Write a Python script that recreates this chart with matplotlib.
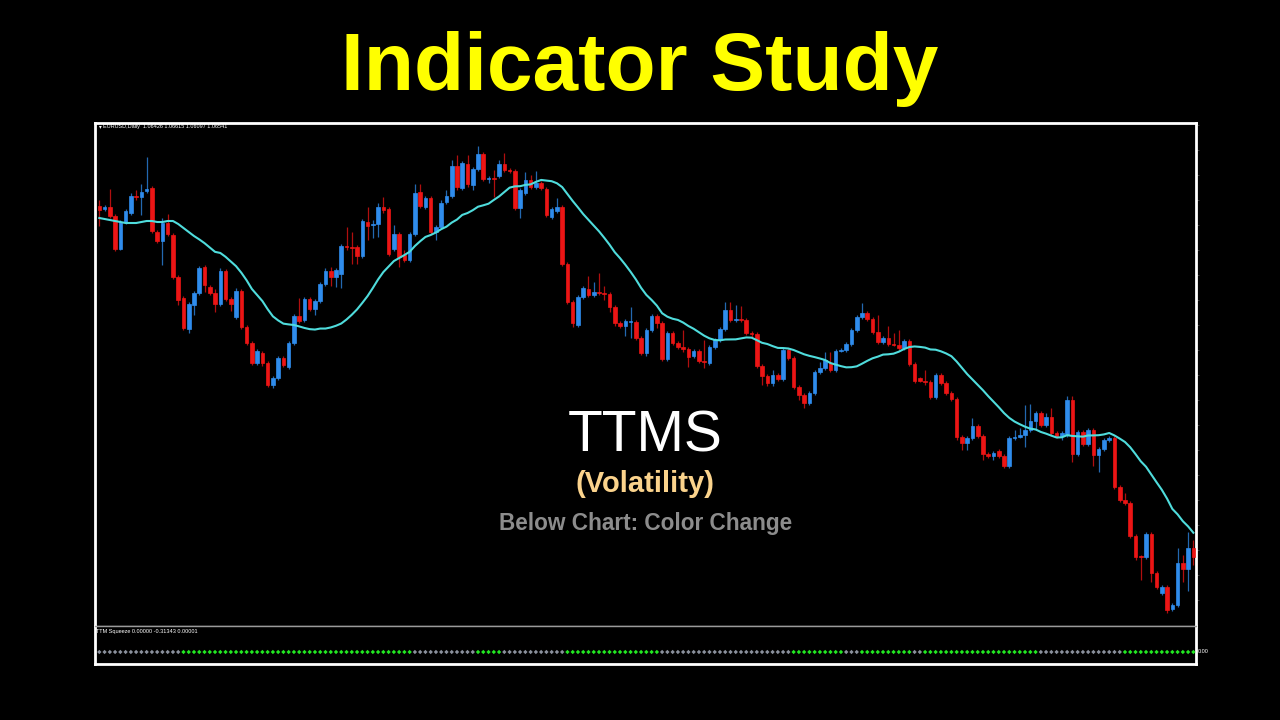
import numpy as np
import pandas as pd
import matplotlib
matplotlib.use("Agg")
import matplotlib.pyplot as plt

# EURUSD daily candles (oldest -> newest)
opens = [1.0994, 1.0991, 1.0993, 1.0984, 1.0951, 1.0978, 1.0987, 1.1004, 1.1003, 1.1009,
         1.1012, 1.0968, 1.0959, 1.0977, 1.0965, 1.0923, 1.0902, 1.0871, 1.0895, 1.0907,
         1.0933, 1.0913, 1.0907, 1.0896, 1.0929, 1.0901, 1.0883, 1.0909, 1.0873, 1.0857,
         1.0837, 1.0847, 1.0837, 1.0815, 1.0822, 1.0842, 1.0833, 1.0857, 1.0884, 1.0880,
         1.0901, 1.0891, 1.0899, 1.0916, 1.0929, 1.0923, 1.0926, 1.0954, 1.0953, 1.0953,
         1.0944, 1.0978, 1.0975, 1.0976, 1.0993, 1.0991, 1.0951, 1.0966, 1.0945, 1.0940,
         1.0966, 1.1008, 1.0993, 1.1002, 1.0968, 1.0973, 1.0998, 1.1004, 1.1034, 1.1012,
         1.1036, 1.1015, 1.1031, 1.1046, 1.1021, 1.1022, 1.1024, 1.1036, 1.1030, 1.1029,
         1.0992, 1.1007, 1.1020, 1.1013, 1.1017, 1.1011, 1.0983, 1.0989, 1.0993, 1.0936,
         1.0898, 1.0875, 1.0903, 1.0911, 1.0905, 1.0908, 1.0907, 1.0906, 1.0893, 1.0877,
         1.0874, 1.0878, 1.0878, 1.0862, 1.0847, 1.0870, 1.0884, 1.0877, 1.0841, 1.0867,
         1.0857, 1.0853, 1.0851, 1.0844, 1.0849, 1.0839, 1.0837, 1.0853, 1.0860, 1.0871,
         1.0890, 1.0880, 1.0881, 1.0880, 1.0867, 1.0866, 1.0834, 1.0824, 1.0817, 1.0825,
         1.0821, 1.0850, 1.0842, 1.0813, 1.0805, 1.0797, 1.0807, 1.0828, 1.0832, 1.0837,
         1.0830, 1.0849, 1.0850, 1.0856, 1.0870, 1.0883, 1.0887, 1.0881, 1.0868, 1.0858,
         1.0862, 1.0856, 1.0855, 1.0852, 1.0859, 1.0836, 1.0822, 1.0819, 1.0818, 1.0803,
         1.0825, 1.0817, 1.0807, 1.0801, 1.0763, 1.0757, 1.0762, 1.0774, 1.0764, 1.0746,
         1.0744, 1.0749, 1.0744, 1.0734, 1.0762, 1.0763, 1.0765, 1.0770, 1.0779, 1.0787,
         1.0775, 1.0783, 1.0767, 1.0764, 1.0765, 1.0800, 1.0746, 1.0768, 1.0756, 1.0770,
         1.0745, 1.0751, 1.0760, 1.0762, 1.0713, 1.0700, 1.0697, 1.0664, 1.0644, 1.0643,
         1.0666, 1.0627, 1.0607, 1.0613, 1.0591, 1.0595, 1.0637, 1.0631, 1.0652]

highs = [1.1000, 1.0995, 1.1011, 1.0986, 1.0980, 1.0991, 1.1007, 1.1010, 1.1016, 1.1043,
         1.1014, 1.0970, 1.0982, 1.0986, 1.0967, 1.0925, 1.0904, 1.0898, 1.0909, 1.0934,
         1.0935, 1.0915, 1.0911, 1.0932, 1.0931, 1.0903, 1.0912, 1.0911, 1.0875, 1.0859,
         1.0851, 1.0849, 1.0839, 1.0824, 1.0844, 1.0844, 1.0859, 1.0886, 1.0902, 1.0903,
         1.0903, 1.0901, 1.0918, 1.0932, 1.0933, 1.0932, 1.0956, 1.0973, 1.0968, 1.0955,
         1.0981, 1.0993, 1.0980, 1.0997, 1.1003, 1.0993, 1.0975, 1.0968, 1.0950, 1.0968,
         1.1016, 1.1016, 1.1004, 1.1004, 1.0975, 1.1000, 1.1010, 1.1040, 1.1045, 1.1039,
         1.1045, 1.1033, 1.1054, 1.1048, 1.1024, 1.1030, 1.1040, 1.1047, 1.1032, 1.1031,
         1.1012, 1.1028, 1.1025, 1.1029, 1.1019, 1.1013, 1.0993, 1.1002, 1.0995, 1.0938,
         1.0900, 1.0905, 1.0914, 1.0924, 1.0918, 1.0927, 1.0914, 1.0908, 1.0895, 1.0879,
         1.0881, 1.0893, 1.0880, 1.0864, 1.0872, 1.0886, 1.0886, 1.0879, 1.0869, 1.0869,
         1.0859, 1.0870, 1.0853, 1.0851, 1.0851, 1.0860, 1.0855, 1.0862, 1.0873, 1.0898,
         1.0898, 1.0895, 1.0894, 1.0882, 1.0869, 1.0868, 1.0836, 1.0826, 1.0830, 1.0827,
         1.0852, 1.0852, 1.0844, 1.0815, 1.0807, 1.0809, 1.0830, 1.0838, 1.0848, 1.0848,
         1.0851, 1.0852, 1.0858, 1.0872, 1.0885, 1.0897, 1.0889, 1.0883, 1.0885, 1.0864,
         1.0874, 1.0867, 1.0870, 1.0861, 1.0861, 1.0838, 1.0823, 1.0830, 1.0820, 1.0827,
         1.0827, 1.0819, 1.0809, 1.0803, 1.0765, 1.0764, 1.0782, 1.0776, 1.0766, 1.0748,
         1.0749, 1.0751, 1.0746, 1.0764, 1.0770, 1.0772, 1.0795, 1.0796, 1.0789, 1.0789,
         1.0787, 1.0792, 1.0769, 1.0769, 1.0804, 1.0804, 1.0770, 1.0770, 1.0772, 1.0772,
         1.0753, 1.0762, 1.0764, 1.0764, 1.0715, 1.0707, 1.0699, 1.0666, 1.0645, 1.0668,
         1.0668, 1.0629, 1.0615, 1.0615, 1.0597, 1.0652, 1.0645, 1.0668, 1.0660]

lows = [1.0974, 1.0989, 1.0982, 1.0949, 1.0950, 1.0976, 1.0985, 1.1000, 1.0985, 1.1007,
        1.0967, 1.0957, 1.0935, 1.0964, 1.0921, 1.0895, 1.0870, 1.0867, 1.0885, 1.0905,
        1.0908, 1.0905, 1.0888, 1.0894, 1.0899, 1.0889, 1.0881, 1.0871, 1.0855, 1.0835,
        1.0835, 1.0834, 1.0813, 1.0812, 1.0820, 1.0833, 1.0831, 1.0855, 1.0877, 1.0878,
        1.0889, 1.0885, 1.0897, 1.0914, 1.0914, 1.0913, 1.0912, 1.0950, 1.0936, 1.0936,
        1.0942, 1.0960, 1.0962, 1.0963, 1.0987, 1.0944, 1.0949, 1.0933, 1.0938, 1.0938,
        1.0964, 1.0992, 1.0991, 1.0966, 1.0960, 1.0971, 1.0996, 1.1002, 1.1010, 1.1010,
        1.1013, 1.1010, 1.1029, 1.1019, 1.1017, 1.1003, 1.1022, 1.1028, 1.1027, 1.0990,
        1.0982, 1.1005, 1.1011, 1.1011, 1.1010, 1.0983, 1.0981, 1.0987, 1.0934, 1.0896,
        1.0873, 1.0873, 1.0901, 1.0903, 1.0903, 1.0905, 1.0900, 1.0888, 1.0874, 1.0872,
        1.0864, 1.0862, 1.0860, 1.0845, 1.0844, 1.0868, 1.0872, 1.0839, 1.0839, 1.0855,
        1.0851, 1.0848, 1.0833, 1.0842, 1.0837, 1.0832, 1.0835, 1.0851, 1.0858, 1.0869,
        1.0878, 1.0878, 1.0878, 1.0865, 1.0862, 1.0832, 1.0815, 1.0814, 1.0814, 1.0819,
        1.0819, 1.0840, 1.0811, 1.0800, 1.0792, 1.0795, 1.0805, 1.0826, 1.0830, 1.0828,
        1.0828, 1.0848, 1.0848, 1.0854, 1.0868, 1.0881, 1.0879, 1.0866, 1.0856, 1.0856,
        1.0854, 1.0854, 1.0850, 1.0850, 1.0834, 1.0817, 1.0818, 1.0815, 1.0801, 1.0801,
        1.0815, 1.0805, 1.0799, 1.0760, 1.0750, 1.0750, 1.0760, 1.0762, 1.0740, 1.0742,
        1.0740, 1.0742, 1.0732, 1.0732, 1.0760, 1.0762, 1.0753, 1.0768, 1.0770, 1.0773,
        1.0773, 1.0765, 1.0762, 1.0760, 1.0763, 1.0738, 1.0744, 1.0754, 1.0754, 1.0734,
        1.0728, 1.0749, 1.0758, 1.0711, 1.0698, 1.0695, 1.0662, 1.0640, 1.0620, 1.0641,
        1.0618, 1.0611, 1.0605, 1.0587, 1.0589, 1.0593, 1.0618, 1.0609, 1.0635]

closes = [1.0990, 1.0993, 1.0984, 1.0951, 1.0978, 1.0989, 1.1004, 1.1003, 1.1008, 1.1011,
          1.0969, 1.0959, 1.0977, 1.0966, 1.0923, 1.0900, 1.0872, 1.0896, 1.0907, 1.0932,
          1.0915, 1.0907, 1.0896, 1.0929, 1.0901, 1.0896, 1.0909, 1.0873, 1.0857, 1.0837,
          1.0849, 1.0837, 1.0815, 1.0822, 1.0842, 1.0835, 1.0857, 1.0884, 1.0879, 1.0901,
          1.0891, 1.0899, 1.0916, 1.0929, 1.0923, 1.0930, 1.0954, 1.0953, 1.0952, 1.0944,
          1.0979, 1.0974, 1.0976, 1.0993, 1.0990, 1.0946, 1.0966, 1.0943, 1.0940, 1.0966,
          1.1007, 1.0994, 1.1002, 1.0968, 1.0973, 1.0997, 1.1004, 1.1034, 1.1013, 1.1037,
          1.1016, 1.1031, 1.1046, 1.1021, 1.1022, 1.1021, 1.1036, 1.1030, 1.1029, 1.0992,
          1.1010, 1.1020, 1.1013, 1.1017, 1.1012, 1.0985, 1.0991, 1.0993, 1.0936, 1.0898,
          1.0877, 1.0903, 1.0912, 1.0905, 1.0908, 1.0907, 1.0906, 1.0893, 1.0877, 1.0874,
          1.0879, 1.0879, 1.0862, 1.0847, 1.0870, 1.0884, 1.0877, 1.0841, 1.0867, 1.0857,
          1.0853, 1.0851, 1.0843, 1.0849, 1.0839, 1.0838, 1.0853, 1.0860, 1.0871, 1.0890,
          1.0880, 1.0881, 1.0880, 1.0867, 1.0866, 1.0834, 1.0824, 1.0817, 1.0825, 1.0821,
          1.0850, 1.0842, 1.0813, 1.0805, 1.0797, 1.0807, 1.0828, 1.0832, 1.0840, 1.0830,
          1.0849, 1.0850, 1.0856, 1.0870, 1.0883, 1.0887, 1.0881, 1.0868, 1.0858, 1.0862,
          1.0856, 1.0855, 1.0852, 1.0859, 1.0836, 1.0819, 1.0819, 1.0818, 1.0803, 1.0825,
          1.0817, 1.0807, 1.0801, 1.0763, 1.0757, 1.0762, 1.0774, 1.0764, 1.0746, 1.0744,
          1.0747, 1.0744, 1.0734, 1.0762, 1.0763, 1.0765, 1.0770, 1.0779, 1.0787, 1.0775,
          1.0783, 1.0767, 1.0764, 1.0767, 1.0800, 1.0746, 1.0768, 1.0756, 1.0770, 1.0745,
          1.0751, 1.0760, 1.0762, 1.0713, 1.0700, 1.0697, 1.0664, 1.0643, 1.0643, 1.0666,
          1.0627, 1.0613, 1.0613, 1.0590, 1.0595, 1.0637, 1.0631, 1.0652, 1.0643]

# moving average values for the first bars (their 20-bar history is off screen)
ma_first = [1.0982, 1.0981, 1.0980, 1.0979, 1.0978, 1.0977, 1.0977, 1.0977, 1.0978, 1.0979,
            1.0979, 1.0978, 1.0978, 1.0979, 1.0979, 1.0976, 1.0972, 1.0968, 1.0964]
ma_period = 20

# TTM squeeze dot colours, as runs of (state, bar count)
squeeze_runs = [("off", 16), ("on", 44), ("off", 12), ("on", 5), ("off", 12), ("on", 18),
                ("off", 25), ("on", 10), ("off", 3), ("on", 10), ("off", 2), ("on", 22),
                ("off", 16), ("on", 14)]

header = "EURUSD,Daily  1.06426 1.06615 1.06097 1.06541"
sub_header = "TTM Squeeze 0.00000 -0.31343 0.00001"

BULL = "#2f8cec"
BEAR = "#ec1515"
MA_COLOR = "#4fdcdc"
DOT_ON = "#22e822"
DOT_OFF = "#8a909c"

o = np.array(opens)
h = np.array(highs)
l = np.array(lows)
c = np.array(closes)
x = np.arange(len(c))

ma = pd.Series(c).rolling(ma_period).mean().to_numpy()
ma[:len(ma_first)] = ma_first

W, H = 1280, 720
fig = plt.figure(figsize=(12.8, 7.2), dpi=100, facecolor="black")
plt.rcParams["font.family"] = ["Liberation Sans", "DejaVu Sans"]

left, right = 95 / W, 1196 / W
ax = fig.add_axes([left, 1 - 626 / H, right - left, (626 - 123) / H], facecolor="black")
ax2 = fig.add_axes([left, 1 - 664 / H, right - left, (664 - 626) / H], facecolor="black")

# candles
up = c >= o
cols = np.where(up, BULL, BEAR)
ax.vlines(x, l, h, colors=cols, linewidth=0.9, alpha=0.75, zorder=2)
ax.bar(x, np.abs(c - o), bottom=np.minimum(o, c), width=0.68, color=cols,
       edgecolor=cols, linewidth=0.5, zorder=3)

ax.plot(x, ma, color=MA_COLOR, linewidth=1.5, zorder=4)

ax.set_xlim(-0.82, 208.5)
ax.set_ylim(1.0574, 1.1077)
ax.set_xticks([])
ax.yaxis.tick_right()
ax.set_yticks(np.arange(1.060, 1.1076, 0.0025))
ax.tick_params(axis="y", length=2.5, width=0.5, color="#555555", labelright=False)
for s in ("top", "left", "right"):
    ax.spines[s].set_color("white")
    ax.spines[s].set_linewidth(2)
ax.spines["bottom"].set_color("#9a9a9a")
ax.spines["bottom"].set_linewidth(1)

ax.text(0.004, 0.997, "\u25be", transform=ax.transAxes, color="white", fontsize=4,
        family="DejaVu Sans", ha="left", va="top")
ax.text(0.0075, 0.998, header, transform=ax.transAxes, color="white", fontsize=4,
        ha="left", va="top")

# squeeze dots
states = [s for s, n in squeeze_runs for _ in range(n)]
dot_cols = [DOT_ON if s == "on" else DOT_OFF for s in states]
ax2.scatter(x[:len(states)], np.zeros(len(states)), marker="D", s=5, c=dot_cols,
            linewidths=0, zorder=3)
ax2.set_xlim(-0.82, 208.5)
ax2.set_ylim(-0.6, 1.3)
ax2.set_xticks([])
ax2.set_yticks([])
for s in ("bottom", "left", "right"):
    ax2.spines[s].set_color("white")
    ax2.spines[s].set_linewidth(2)
ax2.spines["top"].set_color("#9a9a9a")
ax2.spines["top"].set_linewidth(1)
ax2.text(0.001, 0.93, sub_header, transform=ax2.transAxes, color="white", fontsize=4,
         ha="left", va="top")
ax2.text(1.002, 0.316, "0.00", transform=ax2.transAxes, color="white", fontsize=4,
         ha="left", va="center")

# titles and captions
fig.text(0.5, 1 - 90 / H, "Indicator Study", color="#ffff00", fontsize=59,
         fontweight="bold", ha="center", va="baseline")
fig.text(645 / W, 1 - 451 / H, "TTMS", color="white", fontsize=41,
         ha="center", va="baseline")
fig.text(645 / W, 1 - 492 / H, "(Volatility)", color="#fbd38c", fontsize=21,
         fontweight="bold", ha="center", va="baseline")
fig.text(646 / W, 1 - 530 / H, "Below Chart: Color Change", color="#8c8c8c",
         fontsize=16.3, fontweight="bold", ha="center", va="baseline")

fig.savefig("out.png", dpi=100, facecolor="black")
